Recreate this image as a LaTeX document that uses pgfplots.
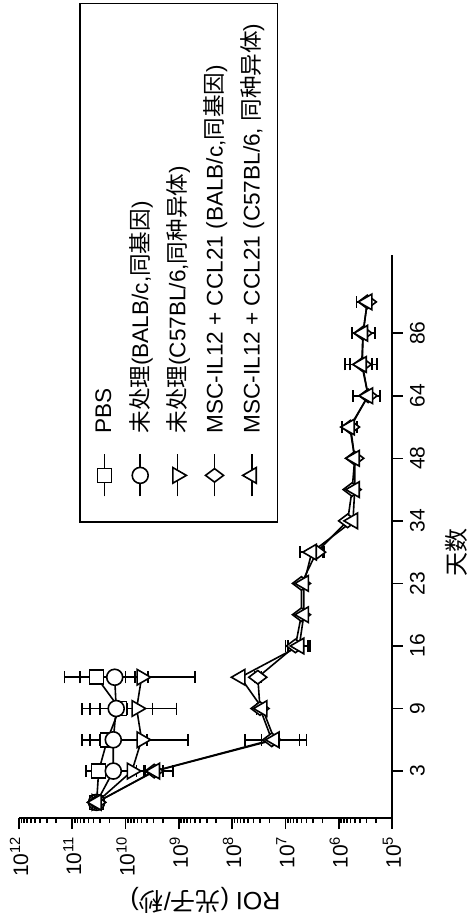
\documentclass[border=0pt]{standalone}
\usepackage{fontspec}
\setmainfont{Liberation Sans}
\newfontfamily\cjk{Noto Sans CJK SC}
\usepackage{graphicx}
\usepackage{pgfplots}
\usepackage{pgfplotstable}
\pgfplotsset{compat=1.18}

% x = point index (ticks at odd indices), y = ROI, lo/hi = ends of the error bar
\pgfplotstableread{
x y lo hi
0 3.5e10 3.5e10 3.5e10
1 3.2e10 9e9 5.5e10
2 2.2e10 5.9e9 4.7e10
3 1.3e10 9.3e9 4.7e10
4 3.5e10 3.8e9 1.4e11
}\pbs
\pgfplotstableread{
x y lo hi
0 3.5e10 3.5e10 3.5e10
1 1.7e10 6.2e9 4e10
2 1.7e10 4e9 6.6e10
3 1.5e10 3.1e9 6.6e10
4 1.6e10 6.6e9 7.2e10
}\untrbalb
\pgfplotstableread{
x y lo hi
0 3.5e10 3.5e10 3.5e10
1 7.6e9 3.1e9 1.5e10
2 5e9 6.8e8 3e10
3 6.2e9 1.1e9 3e10
4 5e9 5e8 1e10
}\untrcfs
\pgfplotstableread{
x y lo hi
0 3.5e10 3.5e10 3.5e10
1 2.9e9 2e9 4.2e9
2 1.8e7 5.4e6 5.7e7
3 3e7 2.5e7 3.5e7
4 3.3e7 2.8e7 3.8e7
5 6.5e6 3.8e6 1e7
6 5e6 5e6 5e6
7 5e6 5e6 5e6
8 2.6e6 2e6 5.2e6
9 6.8e5 6.8e5 6.8e5
10 5.6e5 5.6e5 5.6e5
11 5e5 5e5 5e5
12 6e5 6e5 6e5
13 2.8e5 2.8e5 2.8e5
14 3.6e5 2.4e5 7.6e5
15 3.5e5 3.5e5 3.5e5
16 2.9e5 2.9e5 2.9e5
}\mscbalb
\pgfplotstableread{
x y lo hi
0 3.5e10 3.5e10 3.5e10
1 2.8e9 1.3e9 4.5e9
2 1.6e7 4e6 2.8e7
3 2.7e7 2.7e7 2.7e7
4 7e7 7e7 7e7
5 5.5e6 3.5e6 9e6
6 4.5e6 4.5e6 4.5e6
7 4.5e6 4.5e6 4.5e6
8 3.2e6 1.9e6 5.4e6
9 5.4e5 5.4e5 5.4e5
10 5e5 5e5 5e5
11 5e5 5e5 5e5
12 6.2e5 4.5e5 8.7e5
13 2.8e5 1.7e5 5.4e5
14 3.7e5 1.9e5 6.2e5
15 3.5e5 2.1e5 5.6e5
16 2.9e5 2.9e5 4.6e5
}\msccfs

\begin{document}
\rotatebox{90}{%
\begin{tikzpicture}
\begin{axis}[
    scale only axis,
    width=281.5pt, height=186.5pt,
    xmin=-0.5, xmax=17.5,
    ymode=log, log basis y=10,
    ymin=1e5, ymax=1e12,
    ytickten={5,6,...,12},
    minor ytick={2e5,3e5,4e5,5e5,6e5,7e5,8e5,9e5,
                 2e6,3e6,4e6,5e6,6e6,7e6,8e6,9e6,
                 2e7,3e7,4e7,5e7,6e7,7e7,8e7,9e7,
                 2e8,3e8,4e8,5e8,6e8,7e8,8e8,9e8,
                 2e9,3e9,4e9,5e9,6e9,7e9,8e9,9e9,
                 2e10,3e10,4e10,5e10,6e10,7e10,8e10,9e10,
                 2e11,3e11,4e11,5e11,6e11,7e11,8e11,9e11},
    yticklabel={10\textsuperscript{\pgfmathparse{int(round(\tick))}\pgfmathresult}},
    xtick={1,3,5,7,9,11,13,15},
    xticklabels={3,9,16,23,34,48,64,86},
    axis x line*=bottom, axis y line*=left,
    axis line style={-, line width=0.8pt},
    tick align=outside,
    major tick length=5.5pt, minor tick length=2.5pt,
    every tick/.style={black, line width=0.8pt},
    tick label style={font=\fontsize{10.5}{12}\selectfont},
    xlabel={\cjk 天数},
    ylabel={ROI ({\cjk 光子}/{\cjk 秒})},
    xlabel style={at={(axis description cs:0.471,-0.174)}, anchor=center, font=\fontsize{12}{14}\selectfont},
    ylabel style={at={(axis description cs:-0.147,0.5)}, anchor=center, font=\fontsize{12.5}{14}\selectfont},
    legend style={at={(0.524,0.838)}, anchor=north west, draw=black, line width=0.8pt,
      font=\fontsize{11.3}{13}\selectfont, row sep=3.6pt, inner ysep=5.5pt, inner xsep=8pt},
    legend cell align=left,
    legend image code/.code={%
      \path (-4.5pt,0pt) (29pt,0pt);
      \draw[mark repeat=2, mark phase=2, #1]
      plot coordinates {(0pt,0pt) (10.5pt,0pt) (21pt,0pt)};},
    every axis plot/.append style={black, line width=0.8pt,
      error bars/y dir=both, error bars/y explicit,
      error bars/error bar style={line width=0.8pt},
      error bars/error mark options={rotate=90, line width=0.8pt, mark size=3pt}},
  ]
  \addplot[mark=square*, mark size=3.5pt, mark options={fill=white, solid}] table[x=x, y=y,
    y error plus expr=\thisrow{hi}-\thisrow{y}, y error minus expr=\thisrow{y}-\thisrow{lo}] {\pbs};
  \addplot[mark=*, mark size=4pt, mark options={fill=white, solid}] table[x=x, y=y,
    y error plus expr=\thisrow{hi}-\thisrow{y}, y error minus expr=\thisrow{y}-\thisrow{lo}] {\untrbalb};
  \addplot[mark=triangle*, mark size=4.5pt, mark options={fill=white, solid, rotate=180}] table[x=x, y=y,
    y error plus expr=\thisrow{hi}-\thisrow{y}, y error minus expr=\thisrow{y}-\thisrow{lo}] {\untrcfs};
  \addplot[mark=diamond*, mark size=4.5pt, mark options={fill=white, solid}] table[x=x, y=y,
    y error plus expr=\thisrow{hi}-\thisrow{y}, y error minus expr=\thisrow{y}-\thisrow{lo}] {\mscbalb};
  \addplot[mark=triangle*, mark size=4.5pt, mark options={fill=white, solid}] table[x=x, y=y,
    y error plus expr=\thisrow{hi}-\thisrow{y}, y error minus expr=\thisrow{y}-\thisrow{lo}] {\msccfs};
  \legend{{PBS},
    {{\cjk 未处理}(BALB/c,{\cjk 同基因})},
    {{\cjk 未处理}(C57BL/6,{\cjk 同种异体})},
    {MSC-IL12 + CCL21 (BALB/c,{\cjk 同基因})},
    {MSC-IL12 + CCL21 (C57BL/6, {\cjk 同种异体})}}
\end{axis}
\pgfresetboundingbox
\useasboundingbox (-50pt,-41pt) rectangle (409pt,196pt);
\end{tikzpicture}%
}
\end{document}
